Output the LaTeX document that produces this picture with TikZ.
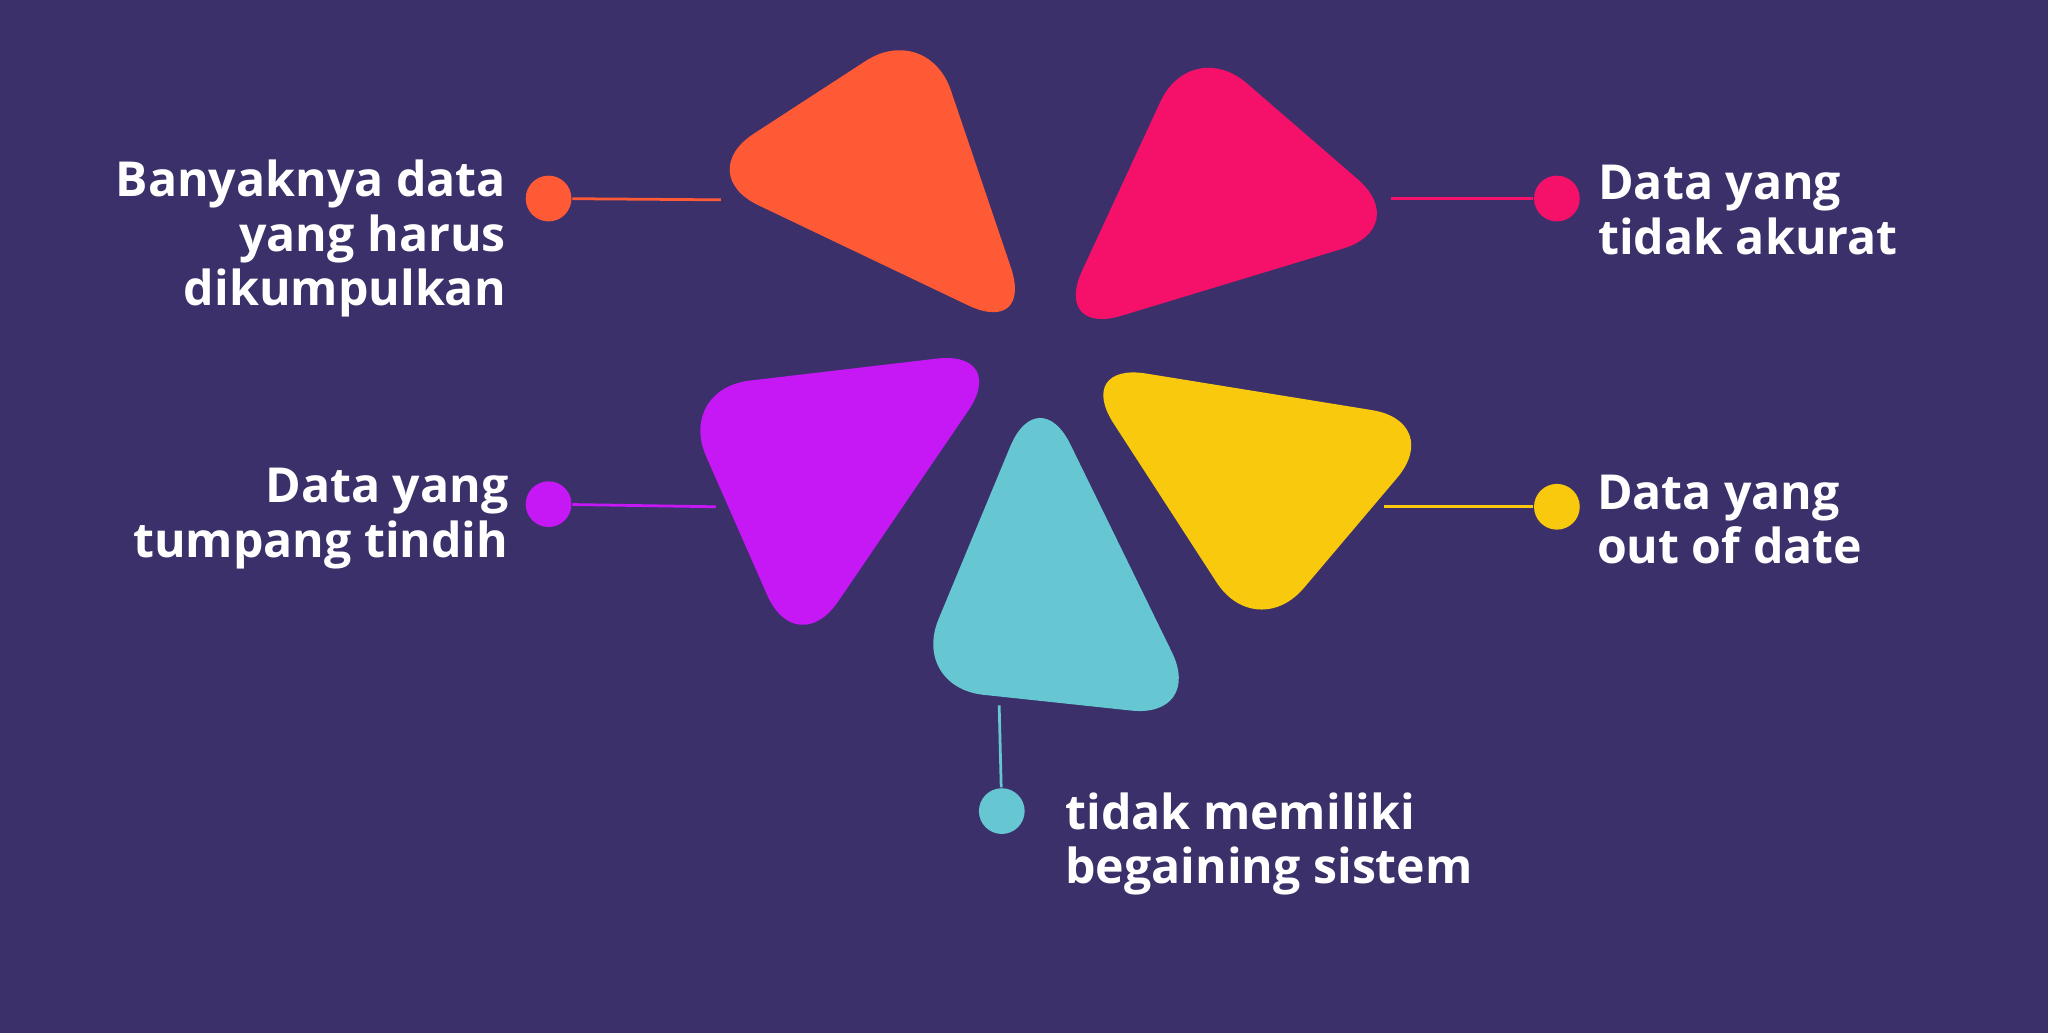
\documentclass[tikz,border=0pt]{standalone}
\usepackage{fontspec}
\setmainfont{Open Sans}
\begin{document}
\begin{tikzpicture}[x=0.01cm,y=-0.01cm]
\definecolor{bg}{HTML}{3B306A}
\definecolor{cor}{HTML}{FF5A36}
\definecolor{cpk}{HTML}{F5116A}
\definecolor{cpu}{HTML}{C617F5}
\definecolor{ccy}{HTML}{66C6D2}
\definecolor{cye}{HTML}{F8C90D}
\tikzset{petal/.style={rounded corners=16pt},
 dot/.style={circle,minimum size=0.35cm,inner sep=0pt},
 lbl/.style={text=white,font=\bfseries\fontsize{10.5}{11.8}\selectfont,inner sep=0pt},
 conn/.style={line width=0.6pt}}
\fill[bg] (0,0) rectangle (1568,791);
\useasboundingbox (0,0) rectangle (1568,791);
\fill[cor,petal] (710,16) -- (792,258) -- (530,133) -- cycle;
\fill[cpk,petal] (912,27) -- (1082,174) -- (805,258) -- cycle;
\fill[cpu,petal] (518,298) -- (773,268) -- (610,507) -- cycle;
\fill[ccy,petal] (795,290) -- (922,550) -- (697,526) -- cycle;
\fill[cye,petal] (822,277) -- (1106,323) -- (962,493) -- cycle;
\node[dot,fill=cor] (d1) at (420,152) {};
\node[dot,fill=cpk] (d2) at (1192,152) {};
\node[dot,fill=cpu] (d3) at (420,386) {};
\node[dot,fill=cye] (d4) at (1192,388) {};
\node[dot,fill=ccy] (d5) at (767,621) {};
\coordinate (c1) at (552,153);
\coordinate (c2) at (1065,152);
\coordinate (c3) at (548,388);
\coordinate (c4) at (1060,388);
\coordinate (c5) at (765,540);
\draw[conn,cor] (d1) -- (c1);
\draw[conn,cpk] (d2) -- (c2);
\draw[conn,cpu] (d3) -- (c3);
\draw[conn,cye] (d4) -- (c4);
\draw[conn,ccy] (d5) -- (c5);
\node[lbl,align=right,anchor=north east] (t1) at (388,122) {Banyaknya data\\yang harus\\dikumpulkan};
\node[lbl,align=left,anchor=north west] (t2) at (1223,126) {Data yang\\tidak akurat};
\node[lbl,align=right,anchor=north east] (t3) at (390,358) {Data yang\\tumpang tindih};
\node[lbl,align=left,anchor=north west] (t4) at (1222,363) {Data yang\\out of date};
\node[lbl,align=left,anchor=north west] (t5) at (815,606) {tidak memiliki\\begaining sistem};
\end{tikzpicture}
\end{document}
